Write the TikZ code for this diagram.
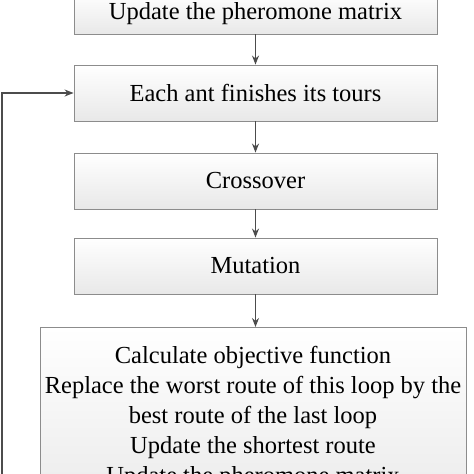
\documentclass[tikz,border=0pt]{standalone}
\usepackage{fontspec}
\setmainfont{Liberation Serif}
\usetikzlibrary{arrows.meta}
\begin{document}
\begin{tikzpicture}[x=1pt,y=1pt,
  boxfont/.style={font=\fontsize{24.5}{30}\selectfont},
  stepbox/.style={draw=black!45, line width=0.9pt, top color=white, bottom color=black!9,
    minimum width=363pt, minimum height=56pt, inner sep=0pt, boxfont},
  flow/.style={draw=black!70, line width=1.1pt, -{Stealth[length=9pt,width=7pt]}}]
\useasboundingbox (0,0) rectangle (474,-474);
\node[stepbox, minimum height=41pt] (b1) at (255.5,-13.5) {Update the pheromone matrix};
\node[stepbox] (b2) at (255.5,-93) {Each ant finishes its tours};
\node[stepbox] (b3) at (255.5,-181) {Crossover};
\node[stepbox] (b4) at (255.5,-266) {Mutation};
\node[stepbox, minimum width=426pt, minimum height=200pt, anchor=north] (b5) at (253,-327) {};
\node[align=center, inner sep=0pt, anchor=north, boxfont] (t5) at (253,-346)
  {Calculate objective function\\Replace the worst route of this loop by the\\best route of the last loop\\Update the shortest route\\Update the pheromone matrix};
\coordinate (loopend) at (2,-540);
\coordinate (corner) at (2,-93);
\draw[flow] (b1) -- (b2);
\draw[flow] (b2) -- (b3);
\draw[flow] (b3) -- (b4);
\draw[flow] (b4.south) -- (b4.south |- b5.north);
\draw[flow] (loopend) -- (corner) -- (b2.west);
\end{tikzpicture}
\end{document}
